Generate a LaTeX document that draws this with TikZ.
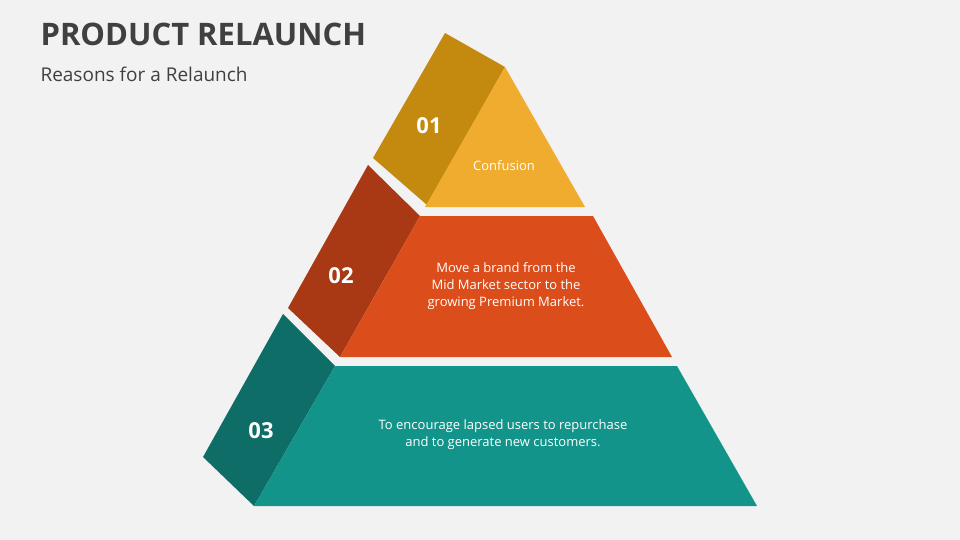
\documentclass[tikz,border=0pt]{standalone}
\usepackage{fontspec}
\setmainfont{Open Sans}
\definecolor{bg}{HTML}{F2F2F2}
\definecolor{tit}{HTML}{404040}
\definecolor{yf}{HTML}{F0AC2F}\definecolor{ys}{HTML}{C48A10}
\definecolor{of}{HTML}{DC4D1C}\definecolor{os}{HTML}{A93915}
\definecolor{tf}{HTML}{12948A}\definecolor{ts}{HTML}{0E6D66}
\tikzset{num/.style={text=white,font=\fontsize{22}{26}\selectfont\bfseries},
body/.style={text=white,font=\fontsize{13}{17}\selectfont,align=center}}
\begin{document}
\begin{tikzpicture}[x=1pt,y=-1pt]
\fill[bg] (0,0) rectangle (960,540);
\useasboundingbox (0,0) rectangle (960,540);
\node[anchor=west,text=tit,font=\fontsize{31}{36}\selectfont\bfseries] (title) at (37,34) {PRODUCT RELAUNCH};
\node[anchor=west,text=tit,font=\fontsize{19}{23}\selectfont] (sub) at (37,74) {Reasons for a Relaunch};
% top
\fill[ys] (445,33) -- (505,67) -- (427,205) -- (373,158) -- cycle;
\fill[yf] (505,67) -- (585,207) -- (425,207) -- cycle;
% middle
\fill[os] (368,165) -- (420,216) -- (340,357) -- (288,308) -- cycle;
\fill[of] (420,216) -- (593,216) -- (672,357) -- (340,357) -- cycle;
% bottom
\fill[ts] (283,314) -- (335,366) -- (254,506) -- (203,457) -- cycle;
\fill[tf] (335,366) -- (677,366) -- (757,506) -- (254,506) -- cycle;
\node[num] (n1) at (429,126) {01};
\node[num] (n2) at (341,276) {02};
\node[num] (n3) at (261,431) {03};
\node[body] (t1) at (504,166) {Confusion};
\node[body] (t2) at (506,286) {Move a brand from the\\Mid Market sector to the\\growing Premium Market.};
\node[body] (t3) at (503,435) {To encourage lapsed users to repurchase\\and to generate new customers.};
\end{tikzpicture}
\end{document}
